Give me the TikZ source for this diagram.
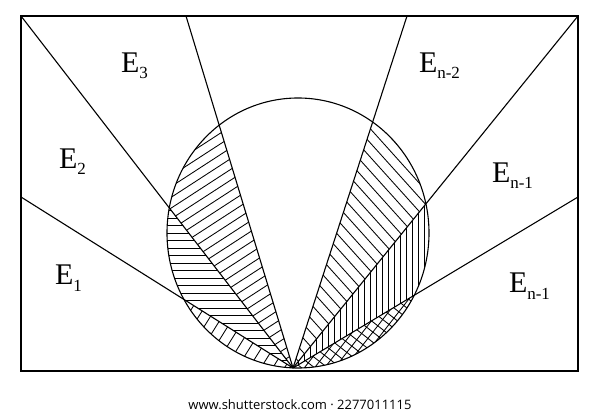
\documentclass[tikz,border=0pt]{standalone}
\usepackage{fontspec}
\setmainfont{Liberation Serif}
\newfontfamily\footfont{Open Sans}
\newcommand\hatchlines[2]{%
  \foreach \k in {-34,...,34}{%
    \draw[hatchline] ({298+\k*#2*sin(#1)-320*cos(#1)},{233+\k*#2*cos(#1)+320*sin(#1)}) -- ({298+\k*#2*sin(#1)+320*cos(#1)},{233+\k*#2*cos(#1)-320*sin(#1)});}}
\newcommand\elabel[1]{{\fontsize{30}{30}\selectfont E}{\fontsize{17}{17}\selectfont\raisebox{-6pt}{#1}}}
\begin{document}
\begin{tikzpicture}[x=1pt,y=-1pt,
  edge/.style={line width=1.1pt, black},
  hatchline/.style={line width=0.85pt, black},
  lbl/.style={anchor=base west, inner sep=0pt, outer sep=0pt}]
\useasboundingbox (0,0) rectangle (600,414);
\fill[white] (0,0) rectangle (600,414);
% key points
\coordinate (A) at (293,368);
\coordinate (TL) at (21,16);
\coordinate (TR) at (578,16);
\coordinate (BR) at (578,371);
\coordinate (T1) at (186,16);
\coordinate (T2) at (407,16);
\coordinate (L1) at (21,197);
\coordinate (R1) at (578,197);
\coordinate (LB) at (21,430);
\coordinate (RB) at (578,430);
\coordinate (AB) at (293,430);
\coordinate (O) at (298,233);
% region A: between TL-line and T1-line
\begin{scope}
  \clip (O) ellipse [x radius=131pt, y radius=135pt];
  \clip (A) -- (TL) -- (T1) -- cycle;
  \hatchlines{33}{9}
\end{scope}
% region B: horizontal
\begin{scope}
  \clip (O) ellipse [x radius=131pt, y radius=135pt];
  \clip (A) -- (L1) -- (TL) -- cycle;
  \hatchlines{0}{7.5}
\end{scope}
% region C: lens lower left
\begin{scope}
  \clip (O) ellipse [x radius=131pt, y radius=135pt];
  \clip (A) -- (L1) -- (LB) -- (AB) -- cycle;
  \hatchlines{58}{10}
\end{scope}
% region D: between T2-line and TR-line
\begin{scope}
  \clip (O) ellipse [x radius=131pt, y radius=135pt];
  \clip (A) -- (T2) -- (TR) -- cycle;
  \hatchlines{-48}{9.5}
\end{scope}
% region E: vertical
\begin{scope}
  \clip (O) ellipse [x radius=131pt, y radius=135pt];
  \clip (A) -- (TR) -- (R1) -- cycle;
  \hatchlines{90}{6}
\end{scope}
% region F: crosshatch
\begin{scope}
  \clip (O) ellipse [x radius=131pt, y radius=135pt];
  \clip (A) -- (R1) -- (RB) -- (AB) -- cycle;
  \hatchlines{52}{8}
  \hatchlines{-38}{8}
\end{scope}
% outline
\draw[edge] (O) ellipse [x radius=131pt, y radius=135pt];
\draw[edge] (TL) -- (A);
\draw[edge] (T1) -- (A);
\draw[edge] (T2) -- (A);
\draw[edge] (TR) -- (A);
\draw[edge] (L1) -- (A);
\draw[edge] (R1) -- (A);
\draw[edge] (TL) rectangle (BR);
% labels
\node[lbl] (e3) at (121,73) {\elabel{3}};
\node[lbl] (e2) at (59,169) {\elabel{2}};
\node[lbl] (e1) at (55,285) {\elabel{1}};
\node[lbl] (en2) at (419,73) {\elabel{n-2}};
\node[lbl] (en1a) at (492,183) {\elabel{n-1}};
\node[lbl] (en1b) at (509,293) {\elabel{n-1}};
\node[font=\footfont\fontsize{13}{13}\selectfont, inner sep=0pt] (foot) at (300,405) {www.shutterstock.com · 2277011115};
\end{tikzpicture}
\end{document}
